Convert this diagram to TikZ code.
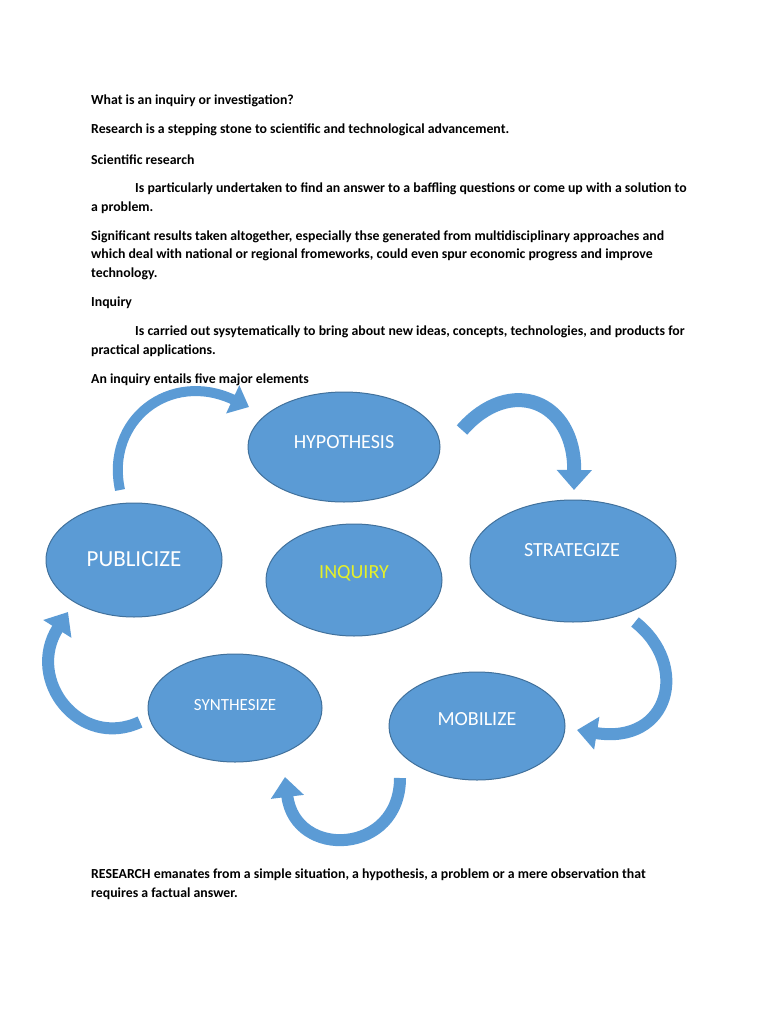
\documentclass[tikz,border=0pt]{standalone}
\usepackage{fontspec}
\setmainfont{Carlito}
\usetikzlibrary{arrows.meta}
\definecolor{ellfill}{HTML}{5B9BD5}
\definecolor{ellline}{HTML}{41719C}
\definecolor{arr}{HTML}{5B9BD5}
\begin{document}
\begin{tikzpicture}[x=1pt,y=-1pt,
  txt/.style={anchor=west,inner sep=0,font=\fontsize{13.8}{17}\selectfont\bfseries},
  ell/.style={ellipse,draw=ellline,line width=1pt,fill=ellfill,minimum width=#1},
  lab/.style={text=white,font=\fontsize{#1}{#1}\selectfont},
  barrow/.style={draw=arr!70!black,line width=11pt,-{Triangle[width=30pt,length=20pt]},color=arr}]
\useasboundingbox[fill=white] (0,0) rectangle (768,1024);
\node[txt] (t1) at (91,101) {What is an inquiry or investigation?};
\node[txt] (t2) at (91,130) {Research is a stepping stone to scientific and technological advancement.};
\node[txt] (t3) at (91,160) {Scientific research};
\node[txt] (t4) at (135,189) {Is particularly undertaken to find an answer to a baffling questions or come up with a solution to};
\node[txt] (t5) at (91,208) {a problem.};
\node[txt] (t6) at (91,237) {Significant results taken altogether, especially thse generated from multidisciplinary approaches and};
\node[txt] (t7) at (91,255) {which deal with national or regional fromeworks, could even spur economic progress and improve};
\node[txt] (t8) at (91,274) {technology.};
\node[txt] (t9) at (91,303) {Inquiry};
\node[txt] (t10) at (135,332) {Is carried out sysytematically to bring about new ideas, concepts, technologies, and products for};
\node[txt] (t11) at (91,351) {practical applications.};
\node[txt] (t12) at (91,380) {An inquiry entails five major elements};
\node[txt] (t13) at (91,875) {RESEARCH emanates from a simple situation, a hypothesis, a problem or a mere observation that};
\node[txt] (t14) at (91,894) {requires a factual answer.};

\draw[ellline,fill=ellfill,line width=1pt] (344,447) ellipse [x radius=96,y radius=55];
\node[lab=20] (hyp) at (344,442) {HYPOTHESIS};
\draw[ellline,fill=ellfill,line width=1pt] (573,561) ellipse [x radius=103,y radius=61];
\node[lab=20] (str) at (572,550) {STRATEGIZE};
\draw[ellline,fill=ellfill,line width=1pt] (134,560) ellipse [x radius=88,y radius=57];
\node[lab=23] (pub) at (134,559) {PUBLICIZE};
\draw[ellline,fill=ellfill,line width=1pt] (354,580) ellipse [x radius=88,y radius=56];
\node[lab=20,text={rgb,255:red,230;green,240;blue,40}] (inq) at (354,573) {INQUIRY};
\draw[ellline,fill=ellfill,line width=1pt] (235,708) ellipse [x radius=87,y radius=54];
\node[lab=17] (syn) at (235,705) {SYNTHESIZE};
\draw[ellline,fill=ellfill,line width=1pt] (477,726) ellipse [x radius=88,y radius=54];
\node[lab=20] (mob) at (477,719) {MOBILIZE};

\coordinate (a1s) at (120,490); \coordinate (a1e) at (249,407);
\coordinate (a2s) at (462,430); \coordinate (a2e) at (574,490);
\coordinate (a3s) at (635,622); \coordinate (a3e) at (577,730);
\coordinate (a4s) at (400,778); \coordinate (a4e) at (285,777);
\coordinate (a5s) at (140,722); \coordinate (a5e) at (68,612);
\begin{scope}[line cap=butt]
\draw[arr,line width=10pt,-{Triangle[width=30pt,length=18pt]}] (a1s) .. controls (105,420) and (170,370) .. (a1e);
\draw[arr,line width=14pt,-{Triangle[width=34pt,length=20pt]}] (a2s) .. controls (510,375) and (575,400) .. (a2e);
\draw[arr,line width=12pt,-{Triangle[width=32pt,length=20pt]}] (a3s) .. controls (690,665) and (670,745) .. (a3e);
\draw[arr,line width=12pt,-{Triangle[width=32pt,length=20pt]}] (a4s) .. controls (400,855) and (295,860) .. (a4e);
\draw[arr,line width=12pt,-{Triangle[width=32pt,length=20pt]}] (a5s) .. controls (80,750) and (25,680) .. (a5e);
\end{scope}
\end{tikzpicture}
\end{document}
